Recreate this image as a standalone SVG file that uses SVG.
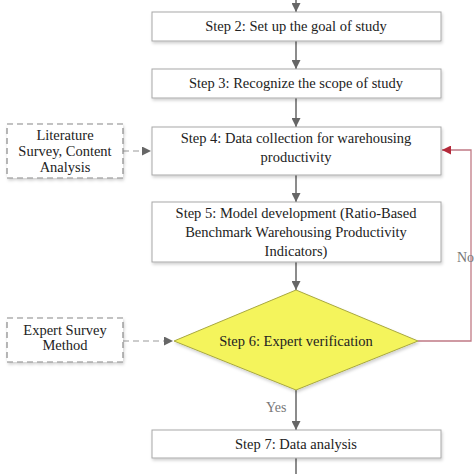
<svg xmlns="http://www.w3.org/2000/svg" width="474" height="474" viewBox="0 0 474 474">
<style>
.box{fill:#fff;stroke:#a8a8a8;stroke-width:1;filter:url(#sh)}
.dbox{fill:#fff;stroke:#888;stroke-width:1.2;stroke-dasharray:6,4;filter:url(#sh)}
.t{font-size:14.5px;fill:#222;text-anchor:middle}
.lbl{font-size:14px;fill:#777}
.c{fill:none;stroke:#666;stroke-width:1.5}
.cd{fill:none;stroke:#999;stroke-width:1.2;stroke-dasharray:6,4}
.cr{fill:none;stroke:#c07a85;stroke-width:1.3}
</style>
<defs>
<filter id="sh" x="-10%" y="-20%" width="120%" height="150%">
<feDropShadow dx="1" dy="2" stdDeviation="1.5" flood-color="#000" flood-opacity="0.18"/>
</filter>
<marker id="ah" viewBox="0 0 10 10" refX="10" refY="5" markerWidth="9" markerHeight="9" markerUnits="userSpaceOnUse" orient="auto">
<path d="M0,0 L10,5 L0,10 z" fill="#666"/>
</marker>
<marker id="ahr" viewBox="0 0 10 10" refX="10" refY="5" markerWidth="9" markerHeight="9" markerUnits="userSpaceOnUse" orient="auto">
<path d="M0,0 L10,5 L0,10 z" fill="#b5293a"/>
</marker>
</defs>
<g font-family="Liberation Serif, DejaVu Serif, serif">
<g id="connectors">
<path class="c" d="M296,0 V12" marker-end="url(#ah)"/>
<path class="c" d="M296,41 V69" marker-end="url(#ah)"/>
<path class="c" d="M296,98 V127" marker-end="url(#ah)"/>
<path class="c" d="M296,175 V202" marker-end="url(#ah)"/>
<path class="c" d="M296,262 V290" marker-end="url(#ah)"/>
<path class="c" d="M296,390 V430" marker-end="url(#ah)"/>
<path class="c" d="M296,458 V474"/>
<path class="cd" d="M123,151 H151" marker-end="url(#ah)"/>
<path class="cd" d="M123,341 H173" marker-end="url(#ah)"/>
<path class="cr" d="M418,341 H471 V150 H442" marker-end="url(#ahr)"/>
<text class="lbl" x="266" y="412">Yes</text>
<text class="lbl" x="457" y="262">No</text>
</g>
<g id="step2">
<rect class="box" x="152" y="12" width="289" height="29"/>
<text class="t" x="296" y="31">Step 2: Set up the goal of study</text>
</g>
<g id="step3">
<rect class="box" x="152" y="69" width="289" height="29"/>
<text class="t" x="296" y="88">Step 3: Recognize the scope of study</text>
</g>
<g id="step4">
<rect class="box" x="152" y="127" width="289" height="48"/>
<text class="t" x="296" y="143">Step 4: Data collection for warehousing</text>
<text class="t" x="296" y="162">productivity</text>
</g>
<g id="literature">
<rect class="dbox" x="7" y="124" width="116" height="54"/>
<text class="t" x="65" y="140">Literature</text>
<text class="t" x="65" y="156">Survey, Content</text>
<text class="t" x="65" y="172">Analysis</text>
</g>
<g id="step5">
<rect class="box" x="152" y="202" width="289" height="60"/>
<text class="t" x="296" y="218">Step 5: Model development (Ratio-Based</text>
<text class="t" x="296" y="237">Benchmark Warehousing Productivity</text>
<text class="t" x="296" y="256">Indicators)</text>
</g>
<g id="step6">
<path d="M296,290 L418,341 L296,390 L174,341 Z" fill="#f4f45c" stroke="#a8a840" stroke-width="1" filter="url(#sh)"/>
<text class="t" x="296" y="346">Step 6: Expert verification</text>
</g>
<g id="expert">
<rect class="dbox" x="7" y="318" width="116" height="44"/>
<text class="t" x="65" y="335">Expert Survey</text>
<text class="t" x="65" y="350">Method</text>
</g>
<g id="step7">
<rect class="box" x="152" y="430" width="289" height="28"/>
<text class="t" x="296" y="449">Step 7: Data analysis</text>
</g>
</g>
</svg>
